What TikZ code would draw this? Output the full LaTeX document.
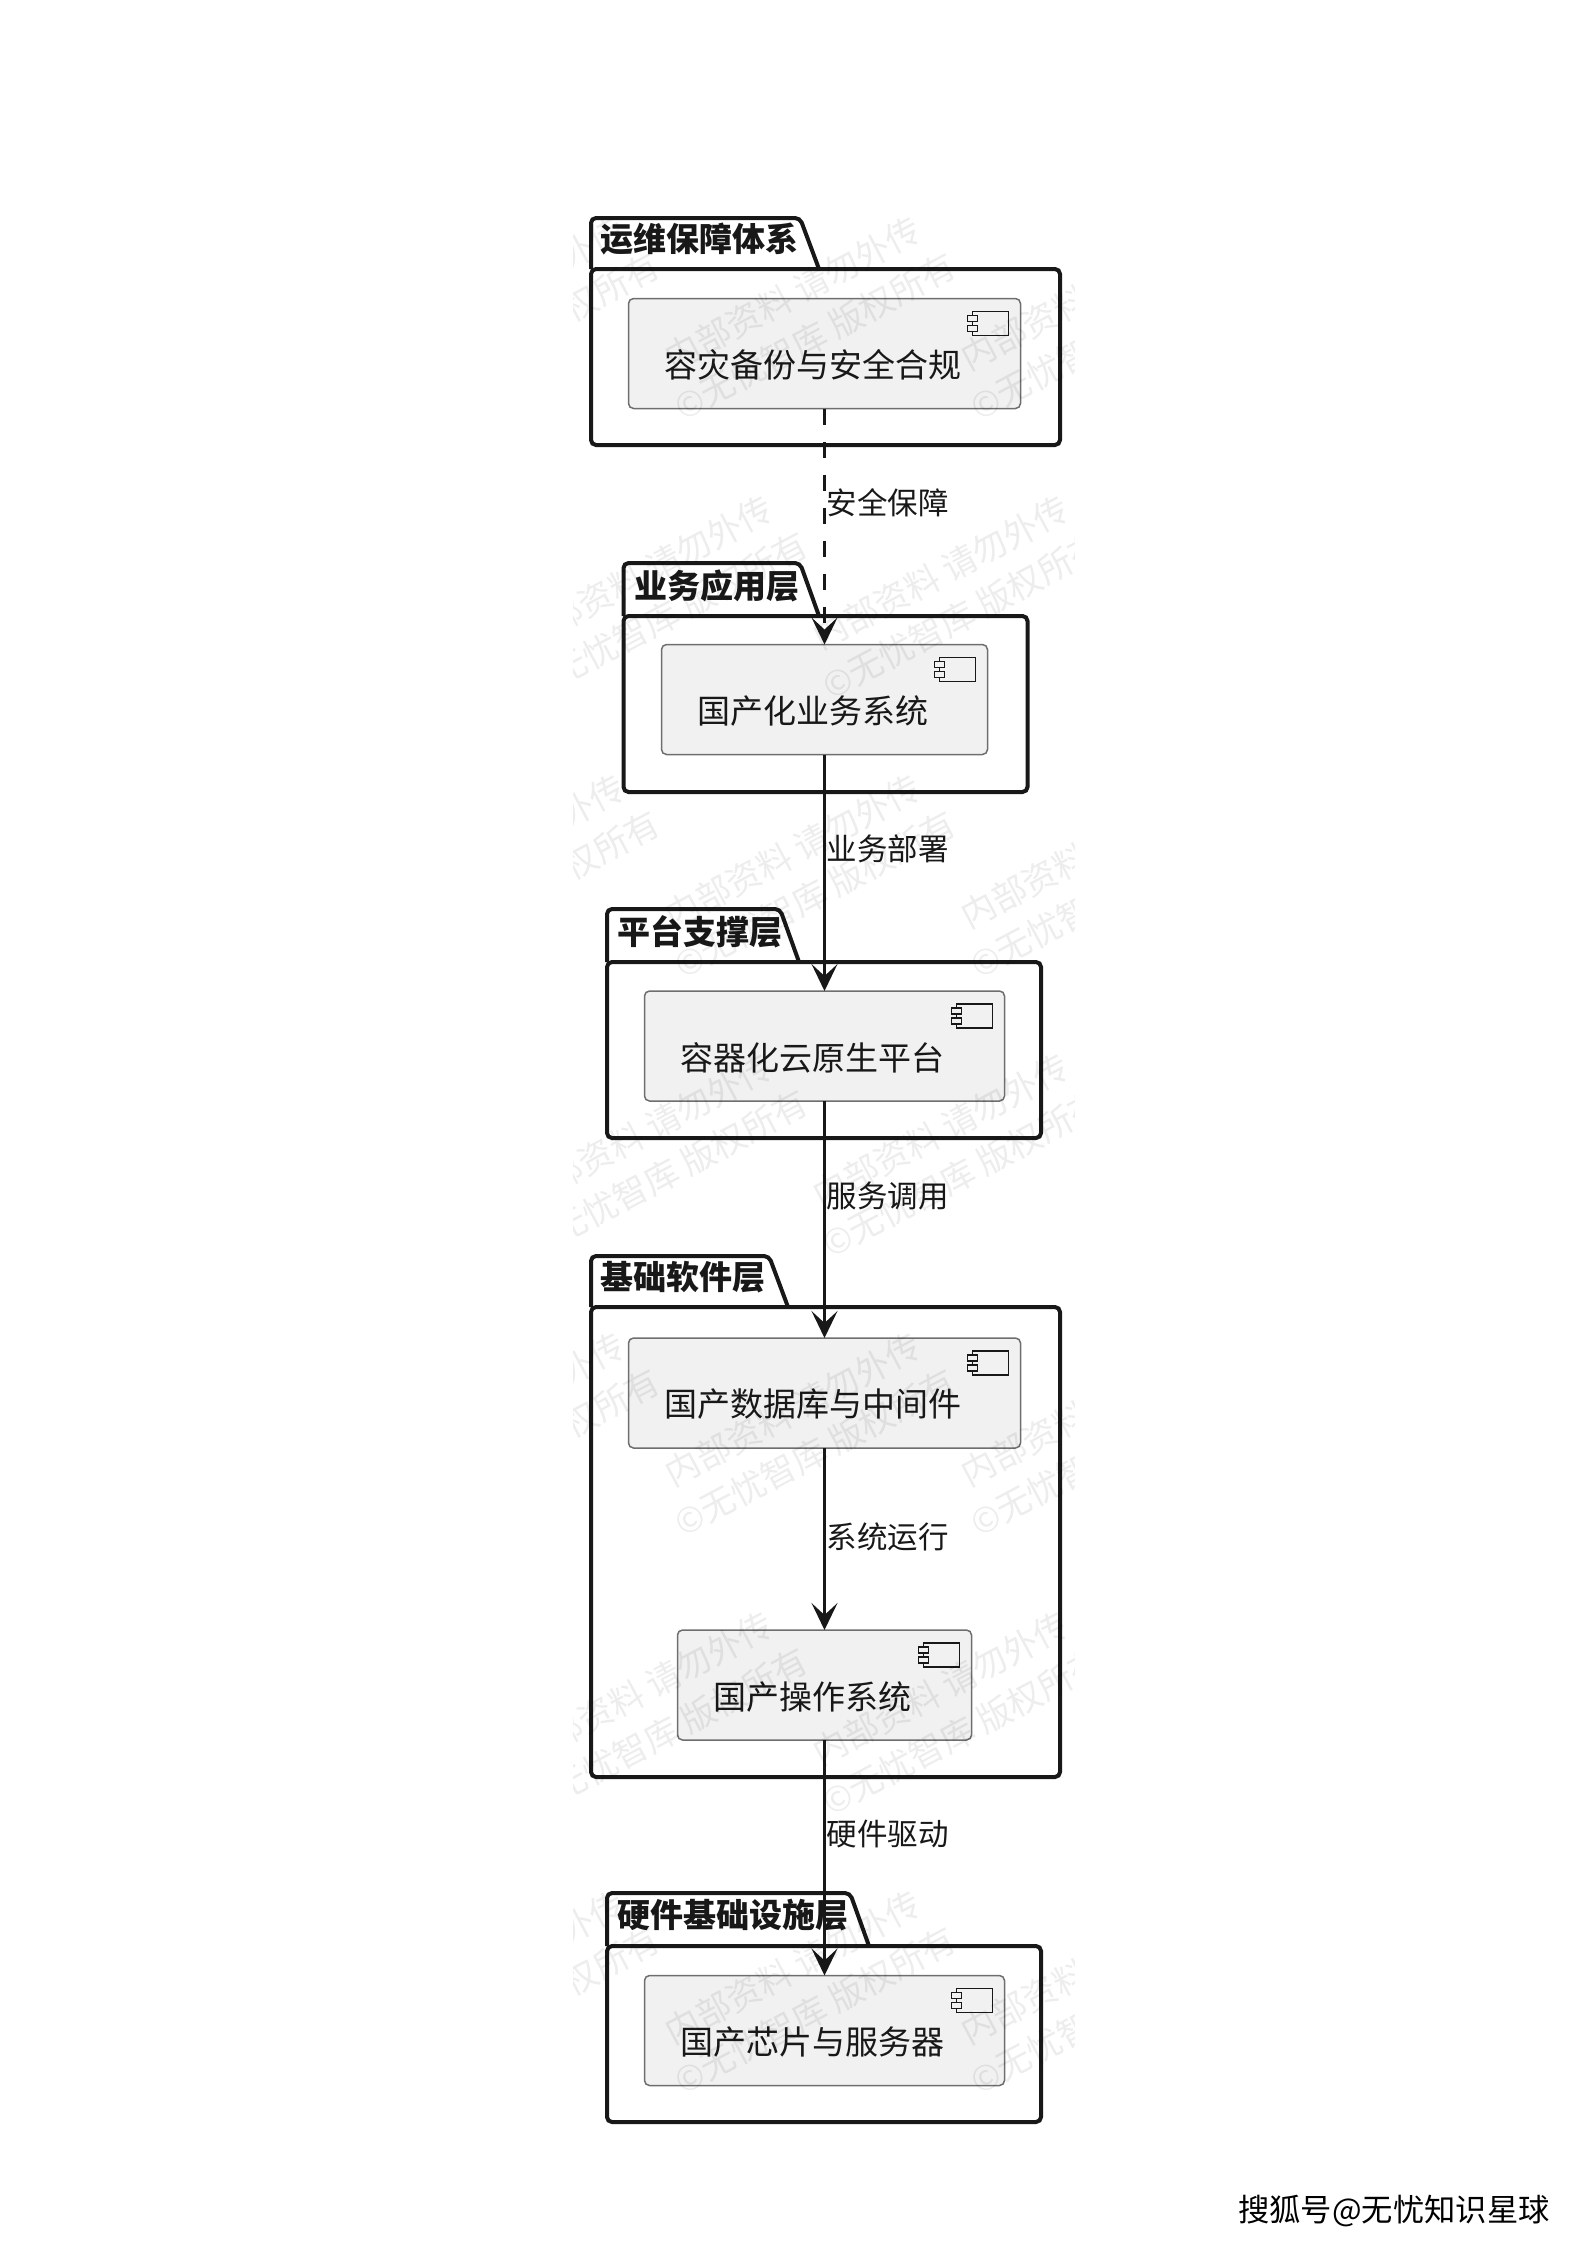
\documentclass[tikz,border=0pt]{standalone}
\usepackage{fontspec}
\setmainfont{Noto Sans CJK SC}
\usepackage{xcolor}
\usetikzlibrary{
  positioning,
  calc,
  arrows.meta
}
\definecolor{inkline}{HTML}{181818}
\definecolor{compfill}{HTML}{F1F1F1}
\definecolor{compline}{HTML}{6E6E6E}
\tikzset{
  pkgbody/.style={draw=inkline, line width=4pt, rounded corners=5pt, inner sep=0pt, outer sep=0pt},
  pkgtab/.style={draw=inkline, line width=4pt, rounded corners=5pt},
  pkglabel/.style={font=\fontsize{33}{36}\selectfont\bfseries, text=inkline, anchor=west, inner sep=0pt},
  compbox/.style={draw=compline, fill=compfill, line width=1.5pt, rounded corners=5pt, inner sep=0pt, outer sep=0pt, minimum height=110pt},
  comptext/.style={font=\fontsize{33}{36}\selectfont, text=inkline, inner sep=0pt},
  flow/.style={draw=inkline, line width=2.6pt, -{Stealth[length=27pt, width=26pt, inset=12pt]}},
  edgelabel/.style={font=\fontsize{30.5}{34}\selectfont, text=inkline, right, inner sep=1pt},
  watermark/.style={font=\fontsize{34.5}{48}\selectfont, text=black, opacity=0.07, rotate=28, align=center, inner sep=0pt},
  compicon/.pic={
    \draw[draw=inkline, line width=1.3pt] (-36,0) rectangle (0,24);
    \draw[draw=inkline, fill=compfill, line width=1.3pt] (-41,4) rectangle (-31,10);
    \draw[draw=inkline, fill=compfill, line width=1.3pt] (-41,14) rectangle (-31,20);
  }
}
\begin{document}
\begin{tikzpicture}[x=1pt, y=-1pt]
  \useasboundingbox (0,0) rectangle (1587,2245);

  % Packages
  \node[pkgbody, minimum width=469pt, minimum height=176pt] (pkgOps) at (825.5,357) {};
  \draw[pkgtab] (pkgOps.north west) -- (591,218) -- (800,218) -- (819,269);
  \node[pkglabel] (labOps) at (600,239) {运维保障体系};

  \node[pkgbody, minimum width=404pt, minimum height=176pt] (pkgApp) at (825.5,704) {};
  \draw[pkgtab] (pkgApp.north west) -- (623.5,563) -- (800,563) -- (819,616);
  \node[pkglabel] (labApp) at (634,586) {业务应用层};

  \node[pkgbody, minimum width=434pt, minimum height=176pt] (pkgPlat) at (824,1050) {};
  \draw[pkgtab] (pkgPlat.north west) -- (607,909) -- (780,909) -- (799,962);
  \node[pkglabel] (labPlat) at (617,932) {平台支撑层};

  \node[pkgbody, minimum width=469pt, minimum height=470pt] (pkgBase) at (825.5,1542) {};
  \draw[pkgtab] (pkgBase.north west) -- (591,1256) -- (769,1256) -- (788,1307);
  \node[pkglabel] (labBase) at (600,1277) {基础软件层};

  \node[pkgbody, minimum width=434pt, minimum height=176pt] (pkgHw) at (824,2034) {};
  \draw[pkgtab] (pkgHw.north west) -- (607,1893) -- (850,1893) -- (869,1946);
  \node[pkglabel] (labHw) at (617,1915) {硬件基础设施层};

  % Components
  \node[compbox, minimum width=392pt] (compDr) at (824.5,353.5) {};
  \node[compbox, minimum width=326pt] (compApp) at (824.5,699.5) {};
  \node[compbox, minimum width=360pt] (compCloud) at (824.5,1046) {};
  \node[compbox, minimum width=392pt] (compDb) at (824.5,1393) {};
  \node[compbox, minimum width=294pt] (compOs) at (824.5,1685) {};
  \node[compbox, minimum width=360pt] (compChip) at (824.5,2030.5) {};

  \node[comptext] (txtDr) at ([shift={(-12,11.5)}]compDr.center) {容灾备份与安全合规};
  \node[comptext] (txtApp) at ([shift={(-12,11.5)}]compApp.center) {国产化业务系统};
  \node[comptext] (txtCloud) at ([shift={(-12,11.5)}]compCloud.center) {容器化云原生平台};
  \node[comptext] (txtDb) at ([shift={(-12,11.5)}]compDb.center) {国产数据库与中间件};
  \node[comptext] (txtOs) at ([shift={(-12,11.5)}]compOs.center) {国产操作系统};
  \node[comptext] (txtChip) at ([shift={(-12,11.5)}]compChip.center) {国产芯片与服务器};

  % Component icons
  \foreach \c in {compDr,compApp,compCloud,compDb,compOs,compChip} {
    \pic at ([shift={(-12,13)}]\c.north east) {compicon};
  }

  % Connectors
  \draw[flow, dash pattern=on 16pt off 17pt] (compDr) -- node[edgelabel, pos=0.4] (edgeSafe) {安全保障} (compApp);
  \draw[flow] (compApp) -- node[edgelabel, pos=0.4] (edgeDeploy) {业务部署} (compCloud);
  \draw[flow] (compCloud) -- node[edgelabel, pos=0.4] (edgeCall) {服务调用} (compDb);
  \draw[flow] (compDb) -- node[edgelabel, pos=0.49] (edgeRun) {系统运行} (compOs);
  \draw[flow] (compOs) -- node[edgelabel, pos=0.4] (edgeDrive) {硬件驱动} (compChip);

  % Watermark tiles
  \begin{scope}
    \clip (573,210) rectangle (1074,2135);
    \foreach \y in {315,873,1431,1989} {
      \foreach \x in {508,804,1100} {
        \node[watermark] (wm\x-\y) at (\x,\y) {内部资料 请勿外传\\©无忧智库 版权所有};
      }
    }
    \foreach \y in {594,1152,1710} {
      \foreach \x in {656,952} {
        \node[watermark] (wm\x-\y) at (\x,\y) {内部资料 请勿外传\\©无忧智库 版权所有};
      }
    }
  \end{scope}

  % Source line
  \node[font=\fontsize{31.3}{36}\selectfont, text=black, inner sep=0pt] (source) at (1394,2211) {搜狐号@无忧知识星球};
\end{tikzpicture}
\end{document}
